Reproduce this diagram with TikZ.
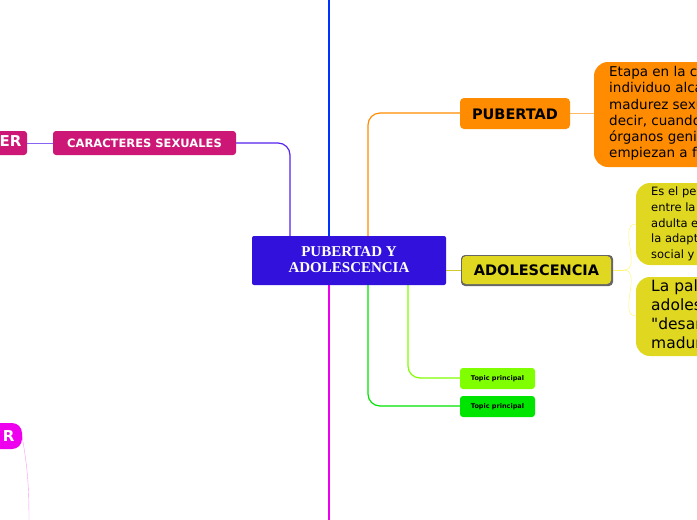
\documentclass[tikz,border=0pt]{standalone}
\usepackage{fontspec}
\setmainfont{DejaVu Sans}[Ligatures=TeXOff]
\newfontfamily\serifb{Liberation Serif}
\begin{document}
\begin{tikzpicture}[x=1pt,y=-1pt,
  line/.style={line width=1.2pt,rounded corners=12pt}]
\useasboundingbox (0,0) rectangle (697,520);
\clip (0,0) rectangle (697,520);
\definecolor{cblue}{HTML}{3311DD}
\definecolor{cmag}{HTML}{CC1777}
\definecolor{corange}{HTML}{FF8C00}
\definecolor{cyel}{HTML}{E0D820}
\definecolor{cpink}{HTML}{EE00EE}
\definecolor{cviol}{HTML}{5522EE}
\definecolor{clime}{HTML}{80FF00}
% connectors
\draw[line,color=cviol] (290,236) -- (290,143) -- (236,143);
\draw[color=cviol!70] (27,143) -- (53,143);
\draw[line,color=blue!80!cyan] (329,0) -- (329,236);
\draw[line,color=corange] (368,236) -- (368,113) -- (460,113);
\draw[color=corange!60] (570,113) -- (594,113);
\draw[line,color=cpink] (329,285) -- (329,520);
\draw[color=cpink!40] (22,436) to[out=-80,in=90] (29,520);
\draw[line,color=clime] (408,285) -- (408,378) -- (460,378);
\draw[line,color=green!90!black] (368,285) -- (368,406) -- (460,406);
\draw[color=yellow!80!black] (446,270) -- (461,270);
\draw[color=yellow!60] (612,270) -- (624,270);
\draw[color=yellow!60] (624,270) to[out=0,in=180] (636,224);
\draw[color=yellow!60] (624,270) to[out=0,in=180] (636,316);
% nodes
\fill[cblue,rounded corners=2pt] (252,236) rectangle (446,285);
\node[text=white,align=center,font=\serifb\bfseries\fontsize{15}{16}\selectfont] (c) at (349,260) {PUBERTAD Y\\ADOLESCENCIA};
\fill[cmag,rounded corners=3pt] (53,131) rectangle (236,155);
\node[text=white,font=\bfseries\fontsize{11.5}{12}\selectfont] (cs) at (144.5,143) {CARACTERES SEXUALES};
\fill[cmag,rounded corners=3pt] (-60,131) rectangle (27,155);
\node[text=white,font=\bfseries\fontsize{15}{16}\selectfont,anchor=east] (uj) at (25,143) {MUJER};
\fill[cpink,rounded corners=10pt] (-60,423) rectangle (22,449);
\node[text=white,font=\bfseries\fontsize{15}{16}\selectfont,anchor=east] (r) at (18,436) {R};
\fill[corange,rounded corners=4pt] (460,98) rectangle (570,129);
\node[font=\bfseries\fontsize{14.5}{16}\selectfont] (pb) at (515,114) {PUBERTAD};
\fill[black!60,rounded corners=4pt] (461,255) rectangle (613,286);
\fill[cyel,rounded corners=4pt] (462,256) rectangle (611,284);
\node[font=\bfseries\fontsize{14.5}{16}\selectfont] (ad) at (536.5,270) {ADOLESCENCIA};
\fill[clime,rounded corners=3pt] (460,368) rectangle (535,389);
\node[font=\bfseries\fontsize{6.5}{7}\selectfont] (t1) at (497.5,378.5) {Topic principal};
\fill[green!90!black,rounded corners=3pt] (460,396) rectangle (535,417);
\node[font=\bfseries\fontsize{6.5}{7}\selectfont] (t2) at (497.5,406.5) {Topic principal};
% text boxes
\fill[corange,rounded corners=14pt] (594,62) rectangle (760,167);
\node[anchor=north west,align=left,inner sep=0pt,font=\fontsize{13.5}{16.3}\selectfont] (tx1) at (609,66) {Etapa en la cual el\\individuo alcanza la\\madurez sexual, es\\decir, cuando los\\órganos genitales\\empiezan a funcionar.};
\fill[cyel,rounded corners=14pt] (636,183) rectangle (780,265);
\node[anchor=north west,align=left,inner sep=0pt,font=\fontsize{11.5}{15.8}\selectfont] (tx2) at (651,186) {Es el periodo de transición\\entre la niñez y la etapa\\adulta en el que ocurre\\la adaptación física,\\social y psicológica.};
\fill[cyel,rounded corners=14pt] (636,277) rectangle (780,356);
\node[anchor=north west,align=left,inner sep=0pt,font=\fontsize{15.5}{19}\selectfont] (tx3) at (651,280) {La palabra\\adolescencia viene de\\"desarrollarse" o\\madurar};
\end{tikzpicture}
\end{document}
